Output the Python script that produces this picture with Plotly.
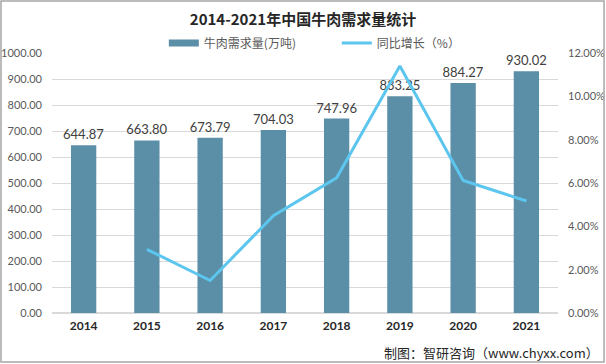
import plotly.graph_objects as go

years = ["2014", "2015", "2016", "2017", "2018", "2019", "2020", "2021"]
demand = [644.87, 663.80, 673.79, 704.03, 747.96, 833.25, 884.27, 930.02]
growth_years = ["2015", "2016", "2017", "2018", "2019", "2020", "2021"]
growth = [2.94, 1.50, 4.49, 6.24, 11.40, 6.12, 5.17]

FONT = "Lato, 'Noto Sans CJK SC', sans-serif"
CJK = "'Noto Sans CJK SC', sans-serif"
BAR_COLOR = "#5b8ea7"
LINE_COLOR = "#5cc6ee"

fig = go.Figure()
fig.add_trace(go.Bar(
    x=years, y=demand, name="牛肉需求量(万吨)", showlegend=False,
    marker=dict(color=BAR_COLOR, line=dict(width=0)),
    text=[f"{v:.2f}" for v in demand], textposition="outside", constraintext="none",
    textfont=dict(size=13, color="#404040", family=FONT),
    cliponaxis=False,
))
# legend-only entry so the bar series gets a wide swatch like the reference
fig.add_trace(go.Scatter(
    x=[None], y=[None], name="牛肉需求量(万吨)", mode="lines",
    line=dict(color=BAR_COLOR, width=7),
))
fig.add_trace(go.Scatter(
    x=growth_years, y=growth, name="同比增长（%）", yaxis="y2",
    mode="lines", line=dict(color=LINE_COLOR, width=3),
))

fig.update_layout(
    width=606, height=364,
    margin=dict(l=52, r=48, t=53, b=51, autoexpand=False),
    paper_bgcolor="white", plot_bgcolor="white",
    font=dict(family=FONT, size=11, color="#595959"),
    bargap=0.6,
    showlegend=True,
    hovermode=False,
    title=dict(text="<b>2014-2021年中国牛肉需求量统计</b>", x=0.5, xanchor="center",
               y=0.945, yanchor="middle",
               font=dict(size=15, color="#262626", family=CJK)),
    legend=dict(orientation="h", x=0.221, xanchor="left", y=1.038, yanchor="middle",
                entrywidth=128, entrywidthmode="pixels",
                font=dict(size=12, color="#595959", family=CJK),
                bgcolor="rgba(0,0,0,0)"),
    xaxis=dict(type="category", showgrid=False, showline=False, ticks="",
               tickfont=dict(size=12, color="#262626", family="Lato, sans-serif", weight="bold"),
               ticklabelstandoff=4),
    yaxis=dict(range=[0, 1000], dtick=100, tickformat=".2f", showgrid=True,
               gridcolor="#d9d9d9", gridwidth=1, zeroline=True, zerolinecolor="#d9d9d9",
               showline=False, ticks="", ticklabelstandoff=9),
    yaxis2=dict(range=[0, 12], dtick=2, tickformat=".2f", ticksuffix="%", overlaying="y",
                side="right", showgrid=False, zeroline=False, showline=False, ticks="",
                ticklabelstandoff=9),
    annotations=[dict(text="制图：智研咨询（www.chyxx.com）", xref="paper", yref="paper",
                      x=1.085, y=-0.15, xanchor="right", yanchor="middle", showarrow=False,
                      font=dict(size=13, color="#262626", family=CJK))],
    shapes=[dict(type="rect", xref="paper", yref="paper", x0=-0.1008, x1=1.091, y0=-0.188, y1=1.2,
                 line=dict(color="#a6a6a6", width=1.5))],
)

fig.write_html("out.html", config={"displayModeBar": False},
               post_script="document.body.style.margin='0';")
